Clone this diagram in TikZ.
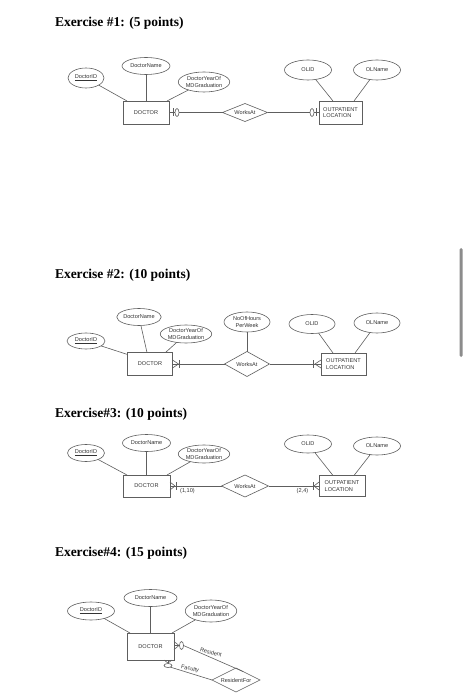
\documentclass[tikz,border=0pt]{standalone}
\usepackage{fontspec}
\setmainfont{Liberation Serif}
\setsansfont{Liberation Sans}
\usetikzlibrary{shapes.geometric,calc}
\definecolor{lc}{HTML}{5E5E5E}
\definecolor{tc}{HTML}{333333}
\definecolor{sb}{HTML}{8C8C8C}
\begin{document}
\begin{tikzpicture}[x=1pt,y=-1pt,
  every node/.style={inner sep=0pt,outer sep=0pt},
  lbl/.style={font=\sffamily\fontsize{5.6}{6.5}\selectfont, text=tc},
  attr/.style 2 args={ellipse, draw=lc, line width=0.6pt, fill=white, lbl, align=center, minimum width=#1, minimum height=#2},
  ent/.style 2 args={rectangle, draw=lc, line width=0.65pt, fill=white, lbl, align=left, minimum width=#1, minimum height=#2},
  rel/.style 2 args={diamond, draw=lc, line width=0.6pt, fill=white, lbl, aspect=2, minimum width=#1, minimum height=#2},
  conn/.style={draw=lc, line width=0.6pt},
  ttl/.style={font=\bfseries\fontsize{13.5}{16}\selectfont, anchor=base west, text=black}
]
\fill[white] (0,0) rectangle (468,700);
\useasboundingbox (0,0) rectangle (468,700);

% ---------------- Exercise 1 ----------------
\node[ttl] (t1) at (55,26.5) {Exercise \#1: (5 points)};
\node[attr={36}{20}] (id1) at (86,78) {\underline{DoctorID}};
\node[attr={48}{17}] (nm1) at (146,66) {DoctorName};
\node[attr={44}{20}] (yr1) at (204,82) {DoctorYearOf\\MDGraduation};
\node[ent={46}{23}, align=center] (doc1) at (146,112.5) {DOCTOR};
\node[rel={45}{18}] (rel1) at (245,112.5) {WorksAt};
\node[ent={43}{23}] (out1) at (340.5,112.5) {OUTPATIENT\\LOCATION};
\node[attr={47}{20}] (olid1) at (308,70) {OLID};
\node[attr={47}{20}] (oln1) at (377,70) {OLName};
\draw[conn] (id1) -- ([xshift=4pt]doc1.north west);
\draw[conn] (nm1) -- (doc1.north);
\draw[conn] (yr1) -- ([xshift=-2pt]doc1.north east);
\draw[conn] (olid1) -- ([xshift=14pt]out1.north west);
\draw[conn] (oln1) -- ([xshift=35pt]out1.north west);
\draw[conn] (doc1) -- (rel1);
\draw[conn] (rel1) -- (out1);
\draw[conn] ([xshift=4pt,yshift=4pt]doc1.east) -- ([xshift=4pt,yshift=-4pt]doc1.east);
\draw[conn,fill=white] ([xshift=8pt]doc1.east) ellipse [x radius=2pt, y radius=4pt];
\draw[conn] ([xshift=-3pt,yshift=4pt]out1.west) -- ([xshift=-3pt,yshift=-4pt]out1.west);
\draw[conn,fill=white] ([xshift=-7pt]out1.west) ellipse [x radius=2pt, y radius=4pt];

% ---------------- Exercise 2 ----------------
\node[ttl] (t2) at (55,278) {Exercise \#2: (10 points)};
\node[attr={38}{16}] (id2) at (86,341) {\underline{DoctorID}};
\node[attr={44}{17}] (nm2) at (139,317) {DoctorName};
\node[attr={44}{18}] (yr2) at (186,334) {DoctorYearOf\\MDGraduation};
\node[ent={45}{23}, align=center] (doc2) at (150,364) {DOCTOR};
\node[rel={45}{25}] (rel2) at (247,364) {WorksAt};
\node[attr={46}{20}] (hrs2) at (247,322) {NoOfHours\\PerWeek};
\node[ent={45}{22}] (out2) at (343.5,364) {OUTPATIENT\\LOCATION};
\node[attr={46}{19}] (olid2) at (312,324) {OLID};
\node[attr={46}{20}] (oln2) at (377,323) {OLName};
\draw[conn] (id2) -- ([yshift=-2pt]doc2.north west);
\draw[conn] (nm2) -- ([xshift=-3pt]doc2.north);
\draw[conn] (yr2) -- ([xshift=-7pt]doc2.north east);
\draw[conn] (hrs2) -- (rel2.north);
\draw[conn] (olid2) -- ([xshift=12pt]out2.north west);
\draw[conn] (oln2) -- ([xshift=34pt]out2.north west);
\draw[conn] (doc2) -- (rel2);
\draw[conn] (rel2) -- (out2);
\draw[conn] ([yshift=4pt]doc2.east) -- ([xshift=6pt]doc2.east) -- ([yshift=-4pt]doc2.east);
\draw[conn] ([xshift=7pt,yshift=4pt]doc2.east) -- ([xshift=7pt,yshift=-4pt]doc2.east);
\draw[conn] ([yshift=4pt]out2.west) -- ([xshift=-6pt]out2.west) -- ([yshift=-4pt]out2.west);
\draw[conn] ([xshift=-8pt,yshift=4pt]out2.west) -- ([xshift=-8pt,yshift=-4pt]out2.west);

% ---------------- Exercise 3 ----------------
\node[ttl] (t3) at (55,417) {Exercise\#3: (10 points)};
\node[attr={37}{17}] (id3) at (86,453) {\underline{DoctorID}};
\node[attr={48}{17}] (nm3) at (146.5,443) {DoctorName};
\node[attr={46}{18}] (yr3) at (204,454) {DoctorYearOf\\MDGraduation};
\node[ent={47}{22}, align=center] (doc3) at (146.5,486) {DOCTOR};
\node[rel={47}{22}] (rel3) at (245,486) {WorksAt};
\node[ent={46}{21}] (out3) at (342,486) {OUTPATIENT\\LOCATION};
\node[attr={47}{18}] (olid3) at (308,444) {OLID};
\node[attr={47}{18}] (oln3) at (377,446) {OLName};
\draw[conn] (id3) -- ([xshift=4pt]doc3.north west);
\draw[conn] (nm3) -- (doc3.north);
\draw[conn] (yr3) -- ([xshift=-3pt]doc3.north east);
\draw[conn] (olid3) -- ([xshift=14pt]out3.north west);
\draw[conn] (oln3) -- ([xshift=35pt]out3.north west);
\draw[conn] (doc3) -- (rel3);
\draw[conn] (rel3) -- (out3);
\draw[conn] ([yshift=4pt]doc3.east) -- ([xshift=5pt]doc3.east) -- ([yshift=-4pt]doc3.east);
\draw[conn] ([xshift=6pt,yshift=4pt]doc3.east) -- ([xshift=6pt,yshift=-4pt]doc3.east);
\draw[conn] ([yshift=4pt]out3.west) -- ([xshift=-5pt]out3.west) -- ([yshift=-4pt]out3.west);
\draw[conn] ([xshift=-6pt,yshift=4pt]out3.west) -- ([xshift=-6pt,yshift=-4pt]out3.west);
\node[lbl] (c3a) at (187.5,491) {(1,10)};
\node[lbl] (c3b) at (302.5,491) {(2,4)};

% ---------------- Exercise 4 ----------------
\node[ttl] (t4) at (55,556) {Exercise\#4: (15 points)};
\node[attr={47}{18}] (id4) at (91,611) {\underline{DoctorID}};
\node[attr={53}{17}] (nm4) at (150.5,598) {DoctorName};
\node[attr={48}{22}] (yr4) at (211,611) {DoctorYearOf\\MDGraduation};
\node[ent={47}{27}, align=center] (doc4) at (150.5,646.5) {DOCTOR};
\node[rel={48}{24}] (rel4) at (236,680) {ResidentFor};
\draw[conn] (id4) -- ([xshift=3pt]doc4.north west);
\draw[conn] (nm4) -- (doc4.north);
\draw[conn] (yr4) -- ([xshift=-2pt]doc4.north east);
\coordinate (re) at ([yshift=1pt]doc4.east);
\coordinate (fa) at ([xshift=17.5pt]doc4.south);
\draw[conn] ([xshift=9.5pt]re) -- ($(rel4.north)!0.3!(rel4.east)$);
\draw[conn] ([xshift=2pt,yshift=-7pt]fa) -- (rel4.west);
\draw[conn] ([yshift=4pt]re) -- ([xshift=5pt]re) -- ([yshift=-4pt]re);
\draw[conn] (re) -- ([xshift=5.5pt]re);
\draw[conn,fill=white] ([xshift=7.5pt]re) ellipse [x radius=2pt, y radius=4pt];
\draw[conn] ([xshift=-4pt]fa) -- ([yshift=-3pt]fa) -- ([xshift=4pt]fa);
\draw[conn] (fa) -- ([yshift=-3.5pt]fa);
\draw[conn,fill=white] ([yshift=-5.5pt]fa) ellipse [x radius=4pt, y radius=2pt];
\node[lbl, rotate=-14] (resl) at (211,652.5) {Resident};
\node[lbl, rotate=-12] (facl) at (190,669) {Faculty};

% scrollbar
\fill[sb, rounded corners=1.5pt] (459.5,248) rectangle (462.5,357);
\end{tikzpicture}
\end{document}
